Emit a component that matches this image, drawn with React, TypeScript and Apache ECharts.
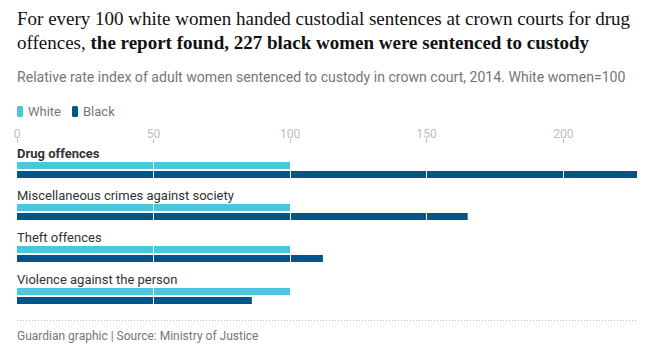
import React, { useEffect, useRef } from "react";
import * as echarts from "echarts";

const categories = [
  "Drug offences",
  "Miscellaneous crimes against society",
  "Theft offences",
  "Violence against the person",
];
const whiteValues = [100, 100, 100, 100];
const blackValues = [227, 165, 112, 86];
const tickValues = [0, 50, 100, 150, 200];
const gridLineValues = [50, 100, 150, 200];

const LIGHT = "#4bc6df";
const DARK = "#005689";
const SANS = "Roboto, 'Noto Sans', sans-serif";
const SERIF = "'Liberation Serif', 'DejaVu Serif', serif";

export default function App() {
  const ref = useRef<HTMLDivElement>(null);
  useEffect(() => {
    if (!ref.current) return;
    const chart = echarts.init(ref.current, undefined, { renderer: "svg" });
    chart.setOption({
      animation: false,
      backgroundColor: "#ffffff",
      title: [
        {
          left: 17,
          top: 6,
          padding: 0,
          text:
            "For every 100 white women handed custodial sentences at crown courts for drug\noffences, {b|the report found, 227 black women were sentenced to custody}",
          textStyle: {
            fontFamily: SERIF,
            fontSize: 19,
            lineHeight: 24,
            fontWeight: "normal",
            color: "#121212",
            rich: {
              b: {
                fontFamily: SERIF,
                fontSize: 19,
                lineHeight: 24,
                fontWeight: "bold",
                color: "#121212",
              },
            },
          },
        },
        {
          left: 17,
          top: 69,
          padding: 0,
          text: "Relative rate index of adult women sentenced to custody in crown court, 2014. White women=100",
          textStyle: {
            fontFamily: SANS,
            fontSize: 14.1,
            lineHeight: 16,
            fontWeight: "normal",
            color: "#767676",
          },
        },
      ],
      legend: {
        left: 17,
        top: 105,
        padding: 0,
        icon: "roundRect",
        itemWidth: 6,
        itemHeight: 11,
        itemGap: 11,
        textStyle: { fontFamily: SANS, fontSize: 13, color: "#767676" },
        data: ["White", "Black"],
      },
      grid: { left: 17, right: 21, top: 149, height: 168 },
      xAxis: {
        type: "value",
        position: "top",
        min: 0,
        max: 227,
        interval: 50,
        offset: 6,
        axisLine: { show: false },
        axisTick: {
          show: true,
          length: 4,
          lineStyle: { color: "#bdbdbd" },
          customValues: tickValues,
        },
        axisLabel: {
          margin: 3,
          fontFamily: SANS,
          fontSize: 12,
          color: "#bdbdbd",
          customValues: tickValues,
        },
        splitLine: { show: false },
      },
      yAxis: {
        type: "category",
        inverse: true,
        data: categories,
        z: 5,
        axisLine: { show: false },
        axisTick: { show: false },
        axisLabel: {
          inside: true,
          margin: 0,
          align: "left",
          verticalAlign: "bottom",
          padding: [0, 0, 10, 0],
          formatter: (v: string) =>
            v === "Drug offences" ? `{b|${v}}` : `{n|${v}}`,
          rich: {
            b: { fontFamily: SANS, fontSize: 13, fontWeight: "bold", color: "#333333" },
            n: { fontFamily: SANS, fontSize: 13, fontWeight: "normal", color: "#333333" },
          },
        },
      },
      series: [
        {
          name: "White",
          type: "bar",
          data: whiteValues,
          barWidth: 7,
          barGap: "29%",
          itemStyle: { color: LIGHT },
        },
        {
          name: "Black",
          type: "bar",
          data: blackValues,
          barWidth: 7,
          barGap: "29%",
          itemStyle: { color: DARK },
          markLine: {
            silent: true,
            symbol: ["none", "none"],
            label: { show: false },
            lineStyle: { color: "#ffffff", width: 1, type: "solid" },
            data: gridLineValues.map((x) => ({ xAxis: x })),
          },
        },
      ],
      graphic: [
        {
          type: "line",
          shape: { x1: 17, y1: 320.5, x2: 637, y2: 320.5 },
          style: { stroke: "#bdbdbd", lineWidth: 1, lineDash: [1, 2] },
        },
        {
          type: "text",
          left: 17,
          top: 330,
          style: {
            text: "Guardian graphic | Source: Ministry of Justice",
            fontFamily: SANS,
            fontSize: 12,
            fill: "#767676",
          },
        },
      ],
    });
    return () => chart.dispose();
  }, []);
  return (
    <div
      ref={ref}
      style={{ position: "fixed", left: 0, top: 0, width: 658, height: 350 }}
    />
  );
}
